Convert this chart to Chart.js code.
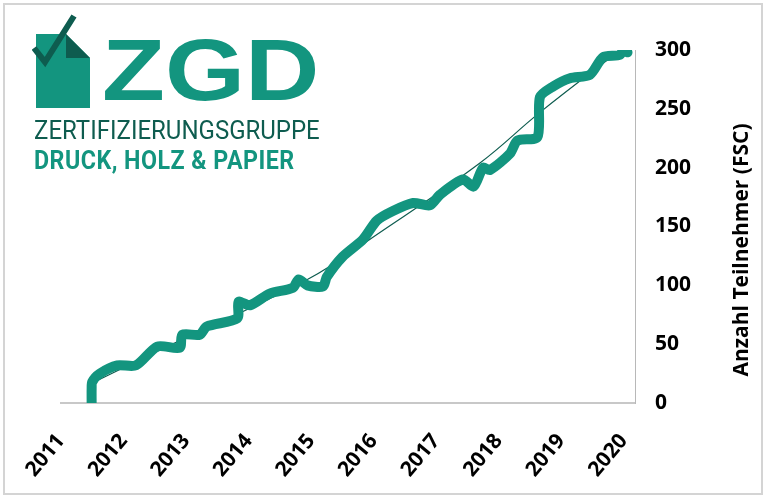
<!DOCTYPE html>
<html><head><meta charset="utf-8">
<script src="https://cdn.jsdelivr.net/npm/chart.js@4"></script>
<style>
body{margin:0;background:#fff;font-family:"Open Sans",sans-serif}
#wrap{position:relative;width:768px;height:500px;}
#frame{position:absolute;left:3px;top:3px;width:760px;height:492px;border:2px solid #d4d4d4;box-sizing:border-box;pointer-events:none}
canvas{position:absolute;left:0;top:0}
#logo{position:absolute;left:30px;top:12px;width:300px;height:160px}
.zgd{position:absolute;left:72px;top:14px;font:bold 88px "Liberation Sans",Arial,sans-serif;color:#13957f;line-height:88px;transform:scaleX(1.17);transform-origin:left}
.l1{position:absolute;left:4px;top:104px;font:25px "Roboto",sans-serif;color:#0e5c4f;transform:scaleX(0.96);transform-origin:left}
.l2{position:absolute;left:4px;top:134px;font:bold 25px "Roboto",sans-serif;color:#13957f;letter-spacing:0.5px;transform:scaleX(0.93);transform-origin:left}
#ytitle{position:absolute;left:740px;top:250px;transform:translate(-50%,-50%) rotate(-90deg);white-space:nowrap;font:bold 21px "Open Sans",sans-serif;color:#000}
</style></head><body>
<div id="wrap">
<canvas id="c" width="768" height="500"></canvas>
<div id="frame"></div>
<div id="logo">
 <svg width="70" height="100" style="position:absolute;left:2px;top:0">
  <polygon points="4,22 34,22 58,46 58,96 4,96" fill="#13957f"/>
  <polygon points="34,22 58,46 34,46" fill="#0e5c4f"/>
  <polyline points="2,36 13,50 42,4" fill="none" stroke="#0e5c4f" stroke-width="6"/>
 </svg>
 <div class="zgd">ZGD</div>
 <div class="l1">ZERTIFIZIERUNGSGRUPPE</div>
 <div class="l2">DRUCK, HOLZ &amp; PAPIER</div>
</div>
<div id="ytitle">Anzahl Teilnehmer (FSC)</div>
</div>
<script>
const years = [2011, 2012, 2013, 2014, 2015, 2016, 2017, 2018, 2019, 2020];
const dates = [2011.49, 2011.49, 2011.5, 2011.62, 2011.9, 2012.2, 2012.54, 2012.9, 2012.94, 2013.22, 2013.33, 2013.82, 2013.84, 2014.02, 2014.34, 2014.71, 2014.8, 2014.94, 2015.19, 2015.25, 2015.5, 2015.83, 2016.05, 2016.3, 2016.63, 2016.9, 2017.06, 2017.43, 2017.6, 2017.75, 2017.86, 2018.18, 2018.3, 2018.62, 2018.66, 2018.87, 2019.14, 2019.46, 2019.67, 2019.94, 2020.02, 2020.06];
const members = [0, 12, 18, 25, 32, 32, 48, 47, 58, 58, 65, 72, 86, 83, 93, 98, 105, 100, 99, 107, 124, 139, 155, 163, 170, 168, 177, 190, 184, 200, 198, 212, 223, 226, 260, 269, 276, 279, 294, 296, 303, 298];
const trendX = [2011.5, 2012.58, 2014.94, 2016.1, 2017.7, 2018.66, 2020.02];
const trendY = [17, 45, 105, 145, 204, 247, 303];

new Chart(document.getElementById('c'), {
  type: 'line',
  data: {
    datasets: [
      { data: dates.map((d, i) => ({x: d, y: members[i]})), borderColor: '#13957f', borderWidth: 10, pointRadius: 0, tension: 0.25, borderCapStyle: 'round', borderJoinStyle: 'round' },
      { data: trendX.map((d, i) => ({x: d, y: trendY[i]})), borderColor: '#0e5c4f', borderWidth: 1.2, pointRadius: 0, tension: 0.4 }
    ]
  },
  options: {
    responsive: false, animation: false,
    layout: { padding: { left: 61, top: 50, bottom: 0, right: 0 } },
    plugins: { legend: { display: false }, tooltip: { enabled: false } },
    scales: {
      x: {
        type: 'linear', min: 2011, max: 2020.18,
        afterBuildTicks: ax => { ax.ticks = years.map(v => ({value: v})); },
        afterFit: ax => { ax.height = 97; },
        ticks: { color: '#000', font: { size: 21, weight: 'bold', family: 'Open Sans' }, maxRotation: 50, minRotation: 50, padding: 14, callback: v => String(v) },
        grid: { display: false, drawTicks: true, tickLength: 12, tickColor: '#b0b0b0' },
        border: { color: '#c8c8c8', width: 2 }
      },
      y: {
        position: 'right', min: 0, max: 300,
        afterFit: ax => { ax.width = 133; },
        ticks: { stepSize: 50, color: '#000', font: { size: 21, weight: 'bold', family: 'Open Sans' }, padding: 12 },
        grid: { display: false, drawTicks: true, tickLength: 8, tickColor: '#b0b0b0' },
        border: { color: '#b8b8b8', width: 1 }
      }
    }
  }
});
</script>
</body></html>
